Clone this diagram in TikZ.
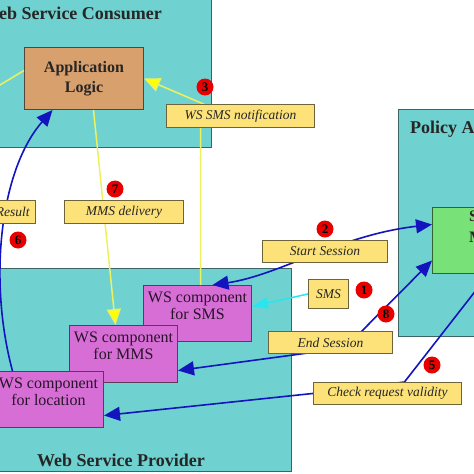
\documentclass[tikz,border=0pt]{standalone}
\usepackage{fontspec}
\setmainfont{Liberation Serif}
\usetikzlibrary{arrows.meta}
\pgfdeclarelayer{boxes}
\pgfdeclarelayer{lines}
\pgfsetlayers{boxes,lines,main}
\definecolor{tealF}{RGB}{112,210,208}
\definecolor{contB}{RGB}{60,100,100}
\definecolor{appF}{RGB}{216,160,108}
\definecolor{appB}{RGB}{80,70,60}
\definecolor{compF}{RGB}{214,110,214}
\definecolor{compB}{RGB}{90,60,90}
\definecolor{compT}{RGB}{40,20,40}
\definecolor{greenF}{RGB}{120,226,120}
\definecolor{greenB}{RGB}{50,100,50}
\definecolor{labF}{RGB}{252,226,120}
\definecolor{labB}{RGB}{110,100,60}
\definecolor{yelL}{RGB}{238,242,90}
\definecolor{yelA}{RGB}{255,255,0}
\definecolor{blueL}{RGB}{20,20,190}
\definecolor{cyanL}{RGB}{40,230,240}
\definecolor{redF}{RGB}{232,0,0}
\tikzset{
  cont/.style={draw=contB, fill=tealF, line width=1.2pt, anchor=north west, inner sep=0pt},
  ttl/.style={font=\fontsize{18}{20}\selectfont\bfseries, text=black!85, inner sep=0pt},
  applog/.style={draw=appB, fill=appF, line width=1pt, anchor=north west, inner sep=0pt,
    font=\fontsize{16}{20}\selectfont\bfseries, align=center, text=black!85},
  greenbox/.style={draw=greenB, fill=greenF, line width=1pt, anchor=north west, inner sep=0pt},
  comp/.style={draw=compB, fill=compF, line width=1pt, anchor=north west, inner sep=0pt},
  comptext/.style={font=\fontsize{16}{16.5}\selectfont, align=center, text=compT, inner sep=0pt, anchor=north, yshift=-7pt},
  lab/.style={draw=labB, fill=labF, line width=0.9pt, anchor=north west, inner sep=0pt,
    font=\fontsize{13.5}{15}\selectfont\itshape, text=black!85},
  num/.style={circle, fill=redF, minimum size=17pt, inner sep=0pt, font=\fontsize{13}{13}\selectfont\bfseries},
  yel/.style={draw=yelL, line width=1.5pt},
  yelarrow/.style={yel, -{Triangle[length=16pt,width=14pt,fill=yelA]}},
  blu/.style={draw=blueL, line width=1.6pt},
  bluarrow/.style={blu, -{Triangle[length=16pt,width=14pt]}},
  blutwo/.style={blu, {Triangle[length=16pt,width=14pt]}-{Triangle[length=16pt,width=14pt]}},
  cyanarrow/.style={draw=cyanL, line width=1.5pt, -{Triangle[length=16pt,width=11pt]}}
}
\begin{document}
\begin{tikzpicture}[x=1pt,y=-1pt]
\useasboundingbox (0,0) rectangle (474,474);
\begin{pgfonlayer}{boxes}
  \fill[white] (0,0) rectangle (474,474);
  % containers
  \node[cont, minimum width=223pt, minimum height=159pt] (cons) at (-12,-12) {};
  \node[cont, minimum width=100pt, minimum height=227pt] (pol) at (398,109) {};
  \node[cont, minimum width=303pt, minimum height=203pt] (prov) at (-12,268) {};
  % components
  \node[applog, minimum width=119pt, minimum height=62pt] (app) at (24,47) {Application\\Logic};
  \node[greenbox, minimum width=80pt, minimum height=66pt] (green) at (432,207) {};
  \node[comp, minimum width=108pt, minimum height=56pt,
        label={[comptext]north:WS component\\for SMS}] (sms) at (143,285) {};
  \node[comp, minimum width=108pt, minimum height=57pt,
        label={[comptext]north:WS component\\for MMS}] (mms) at (69,325) {};
  \node[comp, minimum width=110pt, minimum height=56pt,
        label={[comptext]north:WS component\\for location}] (loc) at (-7,371) {};
\end{pgfonlayer}

% titles
\node[ttl, anchor=base] (consT) at (72,19) {Web Service Consumer};
\node[ttl, anchor=base west] (polT) at (410,133) {Policy Agent};
\node[ttl, anchor=base] (provT) at (121,466) {Web Service Provider};
\node[font=\fontsize{16}{21}\selectfont\bfseries, text=black!85, align=left, anchor=west, inner sep=0pt] (gtxt) at (469,228) {Session\\Manager};

% labels
\node[lab, minimum width=148pt, minimum height=23pt] (notif) at (166,104) {WS SMS notification};
\node[lab, minimum width=119pt, minimum height=23pt] (mmsd) at (64,200) {MMS delivery};
\node[lab, anchor=east, inner xsep=6pt, minimum height=23pt] (res) at (36,211.5) {Result};
\node[lab, minimum width=125pt, minimum height=22pt] (start) at (262,240) {Start Session};
\node[lab, minimum width=40pt, minimum height=29pt] (smsl) at (308,279) {SMS};
\node[lab, minimum width=124pt, minimum height=22pt] (endl) at (268,331) {End Session};
\node[lab, minimum width=148pt, minimum height=22pt] (check) at (313,382) {Check request validity};

% numbers
\node[num] (n1) at (364,290) {1};
\node[num] (n2) at (325,229) {2};
\node[num] (n3) at (205,87) {3};
\node[num] (n5) at (432,365) {5};
\node[num] (n6) at (18,240) {6};
\node[num] (n7) at (115,189) {7};
\node[num] (n8) at (386,314) {8};

% free ends
\coordinate (yl) at (-20,97);
\coordinate (chk) at (484,280);

\begin{pgfonlayer}{lines}
  \draw[yel] ([yshift=8pt]app.west) -- (yl);
  \draw[yelarrow] ([xshift=3pt]sms.north) -- ([xshift=3pt]sms.north |- notif.center)
      -- ([xshift=-37pt]notif.north) -- (app.east);
  \draw[yelarrow] ([xshift=9.5pt]app.south) -- ([xshift=-8pt]mms.north);
  \draw[bluarrow] ([xshift=-36pt]loc.north) .. controls (-12,280) and (0,170) .. ([xshift=-31.5pt]app.south);
  \draw[blutwo] ([xshift=15pt]sms.north) .. controls (280,275) and (340,235) .. ([yshift=16pt]green.west);
  \draw[blutwo] ([yshift=-16.5pt]mms.east) -- (345,348) -- ([yshift=-20pt]green.west);
  \draw[bluarrow] (chk) -- ([xshift=17pt]check.north) -- (check.west) -- ([yshift=-16pt]loc.east);
  \draw[cyanarrow] (smsl.west) -- ([yshift=7pt]sms.east);
\end{pgfonlayer}
\end{tikzpicture}
\end{document}
